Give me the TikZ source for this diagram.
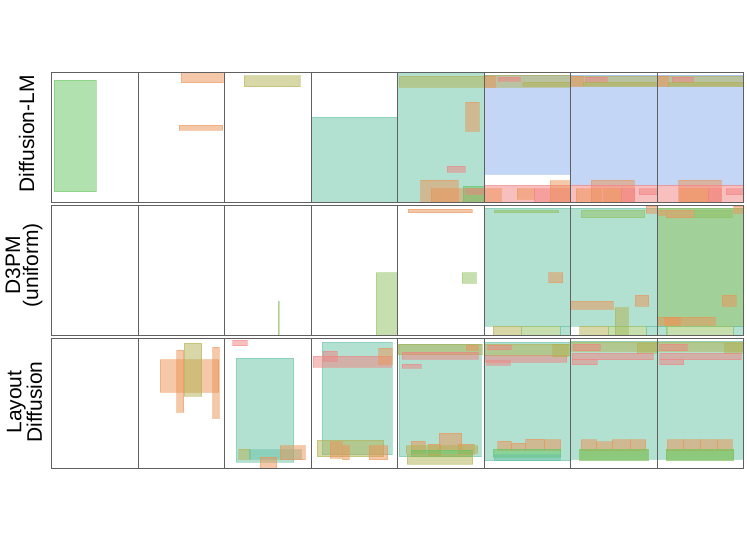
\documentclass[tikz,border=0pt]{standalone}
\usepackage{fontspec}
\setmainfont{Liberation Sans}
\definecolor{cteal}{HTML}{66C2A5}
\definecolor{cgreen}{HTML}{63C561}
\definecolor{corange}{HTML}{ED9355}
\definecolor{colive}{HTML}{B1B151}
\definecolor{cblue}{HTML}{89AFED}
\definecolor{cpink}{HTML}{F38181}
\definecolor{clime}{HTML}{91C161}
\definecolor{cframe}{HTML}{606060}
\newcommand\rbx[5]{\path[#1] (#2,#3) rectangle (#4,#5);}
\tikzset{
  base/.style={fill opacity=0.5, draw opacity=0.45, line width=0.6pt},
  sT/.style={base, fill=cteal, draw=cteal},
  sG/.style={base, fill=cgreen, draw=cgreen},
  sO/.style={base, fill=corange, draw=corange},
  sV/.style={base, fill=colive, draw=colive},
  sB/.style={base, fill=cblue, draw=cblue},
  sP/.style={base, fill=cpink, draw=cpink},
  sL/.style={base, fill=clime, draw=clime},
  frame/.style={draw=cframe, line width=1pt},
  rowlabel/.style={rotate=90, align=center, font=\fontsize{21}{18}\selectfont, inner sep=0pt}
}
\begin{document}
\begin{tikzpicture}[x=1pt,y=-1pt]
\useasboundingbox (0,0) rectangle (747,541);
\fill[white] (0,0) rectangle (747,541);

% ---------- Row 1 : Diffusion-LM ----------
\begin{scope}\clip (51,72) rectangle (743,202);
\rbx{sG}{54}{80}{96}{191.7}
\rbx{sO}{181}{72}{223.3}{82.7}
\rbx{sO}{179.3}{125}{222.7}{130}
\rbx{sV}{244}{75.7}{300}{86.7}
\rbx{sT}{311}{117.3}{397}{202}
% col5
\rbx{sT}{397}{72}{484}{202}
\rbx{sV}{399}{76.3}{484}{87}
\rbx{sO}{465.7}{102.3}{479.3}{131.3}
\rbx{sP}{447.3}{166.3}{465}{172}
\rbx{sO}{420.7}{180.3}{458.3}{202}
\rbx{sO}{431}{188.7}{484}{202}
\rbx{sG}{463.3}{186.3}{484}{202}
\rbx{sP}{465.7}{188.7}{484}{194}
% col6
\rbx{sB}{484}{75.3}{570}{174}
\rbx{sV}{484}{75.3}{570}{87}
\rbx{sO}{484}{76}{495}{87}
\rbx{sP}{498.3}{77}{520}{81.3}
\rbx{sV}{522.7}{82}{570}{86.3}
\rbx{sP}{484}{185}{570}{202}
\rbx{sO}{484.3}{188.7}{501}{202}
\rbx{sO}{517}{188.7}{534}{199}
\rbx{sP}{534}{188.7}{570}{202}
\rbx{sO}{550}{180.7}{570}{202}
% col7
\rbx{sB}{570}{75.3}{657}{185}
\rbx{sV}{570}{76.3}{657}{86.3}
\rbx{sO}{570}{76.3}{583}{86.3}
\rbx{sP}{585.3}{77}{607}{82}
\rbx{sV}{583}{82}{657}{86.3}
\rbx{sO}{591.3}{180.3}{634}{202}
\rbx{sP}{570}{185.3}{657}{202}
\rbx{sO}{576}{188.7}{601}{202}
\rbx{sO}{603.7}{188.7}{621.3}{202}
\rbx{sP}{621}{188.7}{634.7}{202}
\rbx{sP}{639}{188.7}{657}{194.7}
% col8
\rbx{sB}{657}{75.3}{743}{185}
\rbx{sV}{657}{76.3}{743}{86.3}
\rbx{sO}{657}{76.3}{668}{86.3}
\rbx{sP}{672}{77}{693}{82}
\rbx{sV}{668}{82}{743}{86.3}
\rbx{sO}{678.7}{180.3}{721.3}{202}
\rbx{sP}{657}{185.3}{743}{202}
\rbx{sO}{679.7}{188.7}{708}{202}
\rbx{sP}{708}{188.7}{721.3}{202}
\rbx{sP}{726.3}{188.7}{743}{194.7}
\end{scope}

% ---------- Row 2 : D3PM (uniform) ----------
\begin{scope}\clip (51,205) rectangle (743,335);
\rbx{sL}{277.8}{301}{278.8}{335}
\rbx{sL}{376}{272.7}{397}{335}
\rbx{sO}{408.3}{209.3}{472}{212.7}
\rbx{sL}{462.3}{272.7}{476}{283.3}
% col6
\rbx{sT}{484}{208.3}{570}{326}
\rbx{sL}{494.3}{210}{558.7}{212.7}
\rbx{sO}{548.7}{272.7}{562.7}{282.7}
\rbx{sV}{493}{326}{521.3}{335}
\rbx{sL}{521.3}{326}{560.3}{335}
\rbx{sT}{560.3}{326}{570}{335}
% col7
\rbx{sT}{570}{208.3}{657}{326}
\rbx{sL}{581}{210}{644.7}{217.7}
\rbx{sO}{646}{206}{657}{213.3}
\rbx{sO}{635.3}{295.3}{648.7}{306}
\rbx{sO}{570}{301}{613}{309.3}
\rbx{sV}{615.3}{307.7}{628}{335}
\rbx{sV}{579.7}{326}{608}{335}
\rbx{sL}{608}{326}{646.3}{335}
\rbx{sT}{646.3}{326}{657}{335}
% col8
\rbx{sT}{657}{208.3}{743}{326}
\rbx{sL}{657}{208.3}{743}{326}
\rbx{sO}{658.7}{210}{665.3}{215}
\rbx{sO}{666.3}{210}{694.3}{217.7}
\rbx{sL}{694.3}{210}{732}{217.7}
\rbx{sO}{733.7}{206}{743}{213.3}
\rbx{sO}{722}{295.3}{736}{306}
\rbx{sO}{657}{317}{715.3}{325}
\rbx{sO}{664.7}{317}{680.3}{325}
\rbx{sT}{657}{326}{667}{335}
\rbx{sL}{666.3}{326}{733.7}{335}
\rbx{sT}{733.7}{326}{743}{335}
\end{scope}

% ---------- Row 3 : Layout Diffusion ----------
\begin{scope}\clip (51,338) rectangle (743,468);
% col2
\rbx{sO}{160}{359.7}{218.7}{392.3}
\rbx{sO}{176.7}{350}{183.7}{412.3}
\rbx{sV}{184.3}{343.3}{201.7}{396.3}
\rbx{sO}{212.7}{347.3}{219.3}{418.3}
% col3
\rbx{sP}{232.7}{340}{247}{345.7}
\rbx{sT}{236}{358.3}{293.7}{462.3}
\rbx{sV}{238.7}{449}{250.3}{459}
\rbx{sT}{249.3}{449.7}{301}{459}
\rbx{sO}{280}{445.7}{305.3}{459.7}
\rbx{sO}{260.3}{457.3}{276.7}{468}
% col4
\rbx{sT}{322}{342.3}{392}{454.7}
\rbx{sP}{313.3}{356.3}{391}{367.3}
\rbx{sP}{323.3}{351.3}{337}{361.3}
\rbx{sO}{378.7}{348.3}{392}{364}
\rbx{sV}{317}{440}{383.7}{456.7}
\rbx{sO}{330.3}{441.7}{342}{458}
\rbx{sO}{342.7}{445.7}{349.3}{459.7}
\rbx{sO}{369.3}{445.7}{387.7}{459.7}
% col5
\rbx{sT}{399}{344}{481}{456.7}
\rbx{sV}{398.3}{344}{482.3}{354.7}
\rbx{sO}{466}{345}{478.3}{350}
\rbx{sP}{402.3}{352.3}{478.3}{359}
\rbx{sP}{402.3}{364}{421}{368}
\rbx{sO}{439.3}{433}{461.7}{449}
\rbx{sO}{411}{441.3}{425}{453.3}
\rbx{sO}{428.3}{444}{440.7}{455.7}
\rbx{sO}{458.3}{444}{474}{454}
\rbx{sV}{406}{445.7}{477.7}{453.3}
\rbx{sG}{411}{450}{472.3}{456.7}
\rbx{sV}{407.3}{454}{472.7}{464}
% col6
\rbx{sT}{484}{342.3}{570}{460.7}
\rbx{sV}{484}{344}{570}{355.7}
\rbx{sP}{487.7}{345}{511}{349.7}
\rbx{sP}{484.3}{355.7}{566.7}{362.3}
\rbx{sP}{486.7}{360.7}{510}{365}
\rbx{sV}{552.7}{344}{568.3}{356.7}
\rbx{sO}{497.7}{441.3}{511}{450}
\rbx{sO}{511}{443}{525.7}{450}
\rbx{sO}{525.7}{439}{544}{450}
\rbx{sO}{544}{439.7}{560.7}{450}
\rbx{sG}{493.3}{449}{560.7}{457.3}
\rbx{sT}{494.3}{454.7}{560}{460.7}
% col7
\rbx{sT}{570}{341.3}{657}{459}
\rbx{sV}{570}{342.3}{657}{351.3}
\rbx{sP}{573}{344}{600.3}{350.7}
\rbx{sV}{637}{343}{657}{353}
\rbx{sP}{572}{353}{653}{359.7}
\rbx{sP}{572}{359.7}{597}{364.7}
\rbx{sO}{581.3}{439.7}{596.3}{450.7}
\rbx{sO}{596.3}{441.7}{612.3}{450.7}
\rbx{sO}{612.3}{439.7}{630.7}{450.7}
\rbx{sO}{630.7}{439.7}{645.7}{450.7}
\rbx{sG}{579.7}{449}{648}{460}
\rbx{sL}{579.7}{449}{648}{460}
% col8
\rbx{sT}{657}{341.3}{743}{459}
\rbx{sV}{657}{342.3}{743}{351.3}
\rbx{sP}{659.7}{344}{687}{350.7}
\rbx{sV}{724.7}{343}{743}{353}
\rbx{sP}{659.7}{353}{741.3}{359.7}
\rbx{sP}{659.7}{359.7}{683.7}{364.7}
\rbx{sO}{667.3}{439.7}{683}{450.7}
\rbx{sO}{683}{439.7}{700.3}{450.7}
\rbx{sO}{700.3}{439.7}{717.3}{450.7}
\rbx{sO}{717.3}{439.7}{732.3}{450.7}
\rbx{sG}{666.3}{449}{733.7}{460}
\rbx{sL}{666.3}{449}{733.7}{460}
\end{scope}

% ---------- panel frames ----------
\foreach \ya/\yb in {72/202, 205/335, 338/468}{
  \foreach \xa/\xb in {51/138, 138/224, 224/311, 311/397, 397/484, 484/570, 570/657, 657/743}{
    \draw[frame] (\xa,\ya) rectangle (\xb,\yb);
  }
}

% ---------- row labels ----------
\node[rowlabel] (lab1) at (26.5,134) {Diffusion-LM};
\node[rowlabel] (lab2) at (24,265) {D3PM\\(uniform)};
\node[rowlabel] (lab3) at (24.5,402) {Layout\\Diffusion};
\end{tikzpicture}
\end{document}
